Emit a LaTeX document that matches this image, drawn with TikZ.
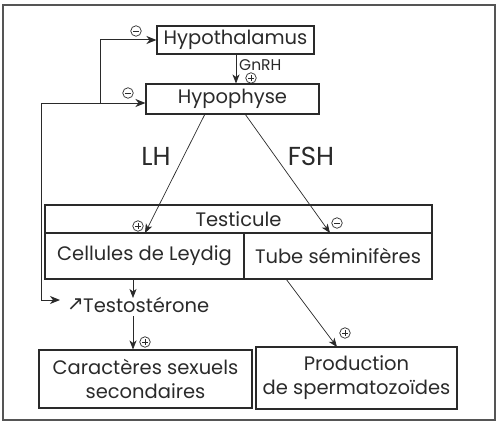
\documentclass[tikz,border=0pt]{standalone}
\usepackage{fontspec}
\setmainfont{Poppins}
\newfontfamily\symfont{DejaVu Sans}
\usetikzlibrary{arrows.meta,calc}
\definecolor{ink}{HTML}{2A2A2A}
\definecolor{frame}{HTML}{555555}
\tikzset{
  box/.style={draw=ink,line width=1.1pt,inner sep=0pt,align=center,text=ink,font=\fontsize{19.5}{24}\selectfont},
  lbl/.style={inner sep=0pt,text=ink,font=\fontsize{19.5}{24}\selectfont},
  big/.style={inner sep=0pt,text=ink,font=\fontsize{26}{30}\selectfont},
  arr/.style={draw=ink,line width=0.7pt,-{Stealth[length=9pt,width=7pt,inset=2.5pt]}},
  fb/.style={draw=ink,line width=1pt,-{Stealth[length=10pt,width=8pt,inset=3pt]}},
  sgnm/.style={circle,draw=ink,line width=0.7pt,minimum size=10.5pt,inner sep=0pt,
    path picture={\draw[ink,line width=0.9pt] ([xshift=-2.8pt]path picture bounding box.center) -- ([xshift=2.8pt]path picture bounding box.center);}},
  sgnp/.style={sgnm,
    path picture={\draw[ink,line width=0.9pt] ([xshift=-2.8pt]path picture bounding box.center) -- ([xshift=2.8pt]path picture bounding box.center)
      ([yshift=-2.8pt]path picture bounding box.center) -- ([yshift=2.8pt]path picture bounding box.center);}}
}
\begin{document}
\begin{tikzpicture}[x=1pt,y=-1pt]
\useasboundingbox (0,0) rectangle (500,428);
\draw[frame,line width=1.6pt] (3,5) rectangle (495,420);

\node[box,minimum width=157pt,minimum height=28pt] (hypot) at (235.5,40) {Hypothalamus};
\node[box,minimum width=173pt,minimum height=30pt] (hypo) at (232.5,99) {Hypophyse};

% GnRH
\draw[arr] (hypot.south -| 236,0) -- (hypo.north -| 236,0);
\node[lbl,anchor=west,font=\fontsize{15.5}{18}\selectfont] (gnrh) at (239,65) {GnRH};
\node[sgnp] (pg) at (251,78) {};

% Testicule table
\node[box,minimum width=387pt,minimum height=28pt] (testi) at (238.5,219) {Testicule};
\node[box,minimum width=199pt,minimum height=46pt] (leydig) at (144.5,256) {Cellules de Leydig};
\node[box,minimum width=188pt,minimum height=46pt] (tube) at (338,256) {Tube séminifères};

% LH / FSH
\coordinate (lhs) at (205,114);
\coordinate (lht) at (145,233);
\coordinate (fss) at (245,114);
\coordinate (fst) at (330,233);
\draw[arr] (lhs) -- (lht);
\draw[arr] (fss) -- (fst);
\node[big] (lh) at (156,156) {LH};
\node[big] (fsh) at (311,156) {FSH};
\node[sgnp] (plh) at (138,226) {};
\node[sgnm] (mfsh) at (337,223) {};

% Testosterone
\node[lbl,anchor=west] (testo) at (83,305) {Testostérone};
\node[inner sep=0pt,text=ink,font=\symfont\fontsize{20}{24}\selectfont,anchor=east] (up) at (84,305) {↗};
\draw[arr] (leydig.south -| 133,0) -- (133,298);

% Result boxes
\node[box,minimum width=213pt,minimum height=58pt] (carac) at (145.5,379) {Caractères sexuels\\secondaires};
\node[box,minimum width=201pt,minimum height=62pt] (prod) at (356.5,378) {Production\\de spermatozoïdes};

\draw[arr] (133,316) -- (carac.north -| 133,0);
\node[sgnp] (pc) at (145,342) {};
\coordinate (tps) at (286,279);
\coordinate (tpt) at (337,347);
\draw[arr] (tps) -- (tpt);
\node[sgnp] (pp) at (345,333) {};

% Feedback
\coordinate (fbc) at (41,300);
\draw[fb] (fbc) -- (60,300);
\draw[fb] (fbc) -- (41,103) -- (hypo.west |- 0,103);
\draw[fb] (100,103) -- (100,40) -- (hypot.west);
\node[sgnm] (m1) at (136,31) {};
\node[sgnm] (m2) at (128,93) {};
\end{tikzpicture}
\end{document}
